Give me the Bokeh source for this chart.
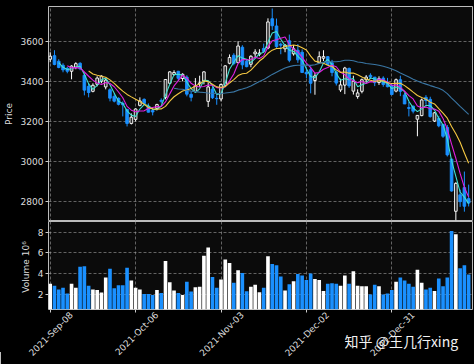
import math
import pandas as pd
from bokeh.plotting import figure
from bokeh.models import ColumnDataSource, Range1d, FixedTicker, Label, LinearAxis
from bokeh.layouts import column
from bokeh.embed import file_html
from bokeh.resources import INLINE

# ---- data ----
opens = [3510, 3528, 3500, 3480, 3465, 3450, 3470, 3490, 3430, 3375,
         3350, 3385, 3400, 3372, 3358, 3325, 3315, 3290, 3260, 3190,
         3210, 3280, 3310, 3275, 3255, 3265, 3305, 3320, 3390, 3434,
         3450, 3414, 3421, 3335, 3350, 3388, 3402, 3300, 3361, 3315,
         3312, 3380, 3490, 3530, 3493, 3570, 3500, 3485, 3537, 3535,
         3564, 3566, 3712, 3676, 3585, 3562, 3602, 3537, 3555, 3545,
         3445, 3458, 3404, 3492, 3515, 3523, 3492, 3446, 3357, 3381,
         3464, 3351, 3324, 3350, 3408, 3430, 3421, 3394, 3416, 3394,
         3379, 3351, 3408, 3332, 3269, 3276, 3211, 3229, 3320, 3310,
         3202, 3215, 3185, 3170, 3012, 2752, 2834, 2870, 2815]
highs = [3545, 3555, 3510, 3490, 3472, 3480, 3495, 3495, 3440, 3390,
         3390, 3425, 3430, 3415, 3365, 3340, 3320, 3300, 3260, 3240,
         3265, 3320, 3315, 3290, 3265, 3288, 3315, 3410, 3450, 3455,
         3452, 3440, 3430, 3348, 3416, 3428, 3450, 3395, 3375, 3331,
         3389, 3480, 3534, 3540, 3600, 3580, 3510, 3530, 3560, 3560,
         3588, 3714, 3763, 3713, 3593, 3586, 3633, 3581, 3586, 3559,
         3470, 3474, 3441, 3549, 3555, 3526, 3507, 3453, 3413, 3472,
         3469, 3428, 3360, 3414, 3431, 3440, 3421, 3425, 3425, 3417,
         3387, 3414, 3428, 3342, 3297, 3279, 3232, 3314, 3331, 3323,
         3247, 3228, 3186, 3182, 3014, 2897, 2860, 2950, 2885]
lows = [3495, 3480, 3465, 3445, 3440, 3410, 3460, 3455, 3330, 3320,
        3345, 3375, 3390, 3360, 3300, 3295, 3280, 3225, 3175, 3185,
        3200, 3275, 3285, 3245, 3230, 3255, 3290, 3310, 3385, 3428,
        3402, 3400, 3325, 3300, 3345, 3372, 3385, 3272, 3312, 3283,
        3300, 3375, 3485, 3480, 3492, 3460, 3470, 3470, 3515, 3525,
        3545, 3560, 3656, 3567, 3535, 3545, 3495, 3528, 3492, 3441,
        3416, 3340, 3333, 3487, 3501, 3481, 3425, 3379, 3347, 3336,
        3367, 3334, 3313, 3340, 3393, 3412, 3376, 3382, 3373, 3370,
        3331, 3345, 3326, 3287, 3225, 3240, 3126, 3226, 3284, 3219,
        3197, 3171, 3118, 3025, 2850, 2707, 2774, 2750, 2776]
closes = [3525, 3484, 3469, 3457, 3450, 3476, 3488, 3462, 3356, 3344,
          3380, 3416, 3426, 3406, 3316, 3301, 3285, 3283, 3190, 3221,
          3262, 3302, 3289, 3246, 3247, 3284, 3300, 3409, 3447, 3444,
          3415, 3435, 3336, 3320, 3376, 3392, 3447, 3372, 3318, 3313,
          3384, 3477, 3519, 3489, 3576, 3482, 3473, 3525, 3546, 3541,
          3549, 3696, 3677, 3573, 3580, 3580, 3505, 3562, 3507, 3444,
          3437, 3390, 3427, 3523, 3523, 3483, 3444, 3391, 3382, 3466,
          3377, 3400, 3342, 3408, 3421, 3421, 3393, 3413, 3384, 3373,
          3334, 3408, 3350, 3287, 3265, 3251, 3230, 3307, 3304, 3224,
          3243, 3178, 3126, 3033, 2853, 2891, 2800, 2777, 2793]
volumes = [3.0, 2.8, 2.45, 2.6, 2.05, 3.0, 2.6, 4.65, 4.7, 2.8,
           2.45, 2.4, 2.15, 3.6, 4.45, 2.55, 2.85, 2.85, 4.55, 3.3,
           2.6, 2.45, 2.0, 2.0, 1.9, 2.4, 2.1, 5.2, 3.15, 2.35,
           2.1, 1.9, 3.2, 2.25, 2.65, 2.7, 5.7, 6.5, 3.65, 2.6,
           3.4, 5.35, 5.0, 3.1, 4.3, 4.05, 2.26, 2.7, 2.9, 2.17,
           2.6, 5.67, 4.9, 4.8, 3.7, 2.33, 2.95, 3.25, 3.95, 3.8,
           3.35, 4.0, 3.45, 3.35, 2.3, 3.0, 3.05, 3.0, 2.8, 3.8,
           3.0, 4.2, 2.8, 2.75, 2.75, 1.95, 2.9, 2.75, 1.95, 2.05,
           2.4, 3.2, 3.6, 3.3, 3.0, 2.7, 4.35, 3.1, 2.45, 2.6,
           2.3, 3.5, 2.75, 3.6, 8.1, 7.8, 4.5, 4.8, 3.9]
tick_positions = [0, 20, 40, 60, 80]
tick_labels = ["2021-Sep-08", "2021-Oct-06", "2021-Nov-03", "2021-Dec-02", "2021-Dec-31"]
price_ticks = [2800, 3000, 3200, 3400, 3600]
volume_ticks = [2, 4, 6, 8]
mav_periods = [3, 5, 10, 30]
mav_colors = ["#40e0d0", "#e020e0", "#f5c842", "#3a76a4"]
watermark = "知乎 @王几行xing"

# ---- styling ----
UP = "#ffffff"
DOWN = "#1a90ff"
BG = "#000000"
FACE = "#0b0b0b"
TXT = "#dddddd"
FONT = "DejaVu Sans"
LABEL_SHIFT = 5.0   # rotated date labels are centred on their tick (in bar units)

n = len(closes)
xs = list(range(n))
is_up = [c >= o for o, c in zip(opens, closes)]
src = ColumnDataSource(dict(
    x=xs, o=opens, h=highs, l=lows, c=closes, v=volumes,
    top=[max(o, c) for o, c in zip(opens, closes)],
    bot=[min(o, c) for o, c in zip(opens, closes)],
    fill=["#2e2e2e" if u else DOWN for u in is_up],
    edge=[UP if u else DOWN for u in is_up],
    vcol=[UP if u else DOWN for u in is_up],
))

x_lo, x_hi = -0.4, n - 0.1
x_range = Range1d(x_lo, x_hi)


def style_axis(ax):
    ax.axis_line_color = None
    ax.major_tick_line_color = "#cccccc"
    ax.major_tick_out = 3
    ax.major_tick_in = 0
    ax.minor_tick_line_color = None
    ax.major_label_text_color = TXT
    ax.major_label_text_font = FONT
    ax.major_label_text_font_size = "9px"
    ax.major_label_standoff = 2
    ax.axis_label_text_color = TXT
    ax.axis_label_text_font = FONT
    ax.axis_label_text_font_size = "9px"
    ax.axis_label_text_font_style = "normal"
    ax.axis_label_standoff = 4


def style(p):
    p.background_fill_color = FACE
    p.border_fill_color = BG
    p.outline_line_color = "#bbbbbb"
    p.outline_line_width = 1
    p.grid.grid_line_color = "#a0a0a0"
    p.grid.grid_line_alpha = 0.75
    p.grid.grid_line_dash = "3 2"
    p.grid.grid_line_width = 0.8
    for ax in p.axis:
        style_axis(ax)


p1 = figure(width=474, height=221, x_range=x_range, y_range=Range1d(2701, 3773),
            output_backend="svg", toolbar_location=None,
            min_border_left=46, min_border_right=2, min_border_top=6, min_border_bottom=0)
style(p1)
p1.xaxis.visible = False
p1.xgrid.ticker = FixedTicker(ticks=tick_positions)
p1.yaxis.ticker = FixedTicker(ticks=price_ticks)
p1.yaxis.axis_label = "Price"

p1.segment(x0="x", y0="l", x1="x", y1="h", color="edge", line_width=1, source=src)
p1.vbar(x="x", width=0.62, top="top", bottom="bot", fill_color="fill",
        line_color="edge", line_width=0.9, source=src)

cs = pd.Series(closes, dtype=float)
for per, col in zip(mav_periods, mav_colors):
    ma = cs.rolling(per).mean()
    p1.line(xs, list(ma), line_color=col, line_width=1.1)

p2 = figure(width=474, height=143, x_range=x_range, y_range=Range1d(0.5, 9.03),
            output_backend="svg", toolbar_location=None,
            min_border_left=46, min_border_right=2, min_border_top=0, min_border_bottom=0)
p2.extra_x_ranges = {"labels": Range1d(x_lo - LABEL_SHIFT, x_hi - LABEL_SHIFT)}
style(p2)
# main axis: tick marks only
p2.xaxis.ticker = FixedTicker(ticks=tick_positions)
p2.xaxis.major_label_overrides = {t: "" for t in tick_positions}
p2.xaxis.major_label_text_font_size = "0px"
p2.xaxis.major_label_standoff = 0
p2.xgrid.ticker = FixedTicker(ticks=tick_positions)
# label axis: rotated date labels centred under the ticks
lab_axis = LinearAxis(x_range_name="labels", ticker=FixedTicker(ticks=tick_positions))
style_axis(lab_axis)
lab_axis.major_tick_line_color = None
lab_axis.major_tick_out = 0
lab_axis.major_label_standoff = 1
lab_axis.major_label_overrides = {t: s for t, s in zip(tick_positions, tick_labels)}
lab_axis.major_label_orientation = math.pi / 4
p2.add_layout(lab_axis, "below")

p2.yaxis.ticker = FixedTicker(ticks=volume_ticks)
p2.yaxis.axis_label = "Volume  10⁶"
p2.vbar(x="x", width=0.85, top="v", bottom=0, fill_color="vcol", line_color=None, source=src)

# watermark: a small transparent svg figure pulled up over the lower right corner
p3 = figure(width=172, height=24, x_range=Range1d(0, 1), y_range=Range1d(0, 1),
            x_axis_type=None, y_axis_type=None,
            output_backend="svg", toolbar_location=None,
            min_border_left=0, min_border_right=0, min_border_top=0, min_border_bottom=0,
            margin=(-36, 0, 0, 296))
p3.grid.visible = False
p3.outline_line_color = None
p3.background_fill_alpha = 0
p3.border_fill_alpha = 0
p3.add_layout(Label(x=0, y=0.5, text=watermark, text_color="#f2f2f2",
                    text_font="Noto Sans CJK SC", text_font_size="14px",
                    text_baseline="middle", text_align="left"))

layout = column(p1, p2, p3, spacing=0)
layout.styles = {"background-color": "#000000"}

open("out.html", "w").write(file_html(layout, INLINE))
